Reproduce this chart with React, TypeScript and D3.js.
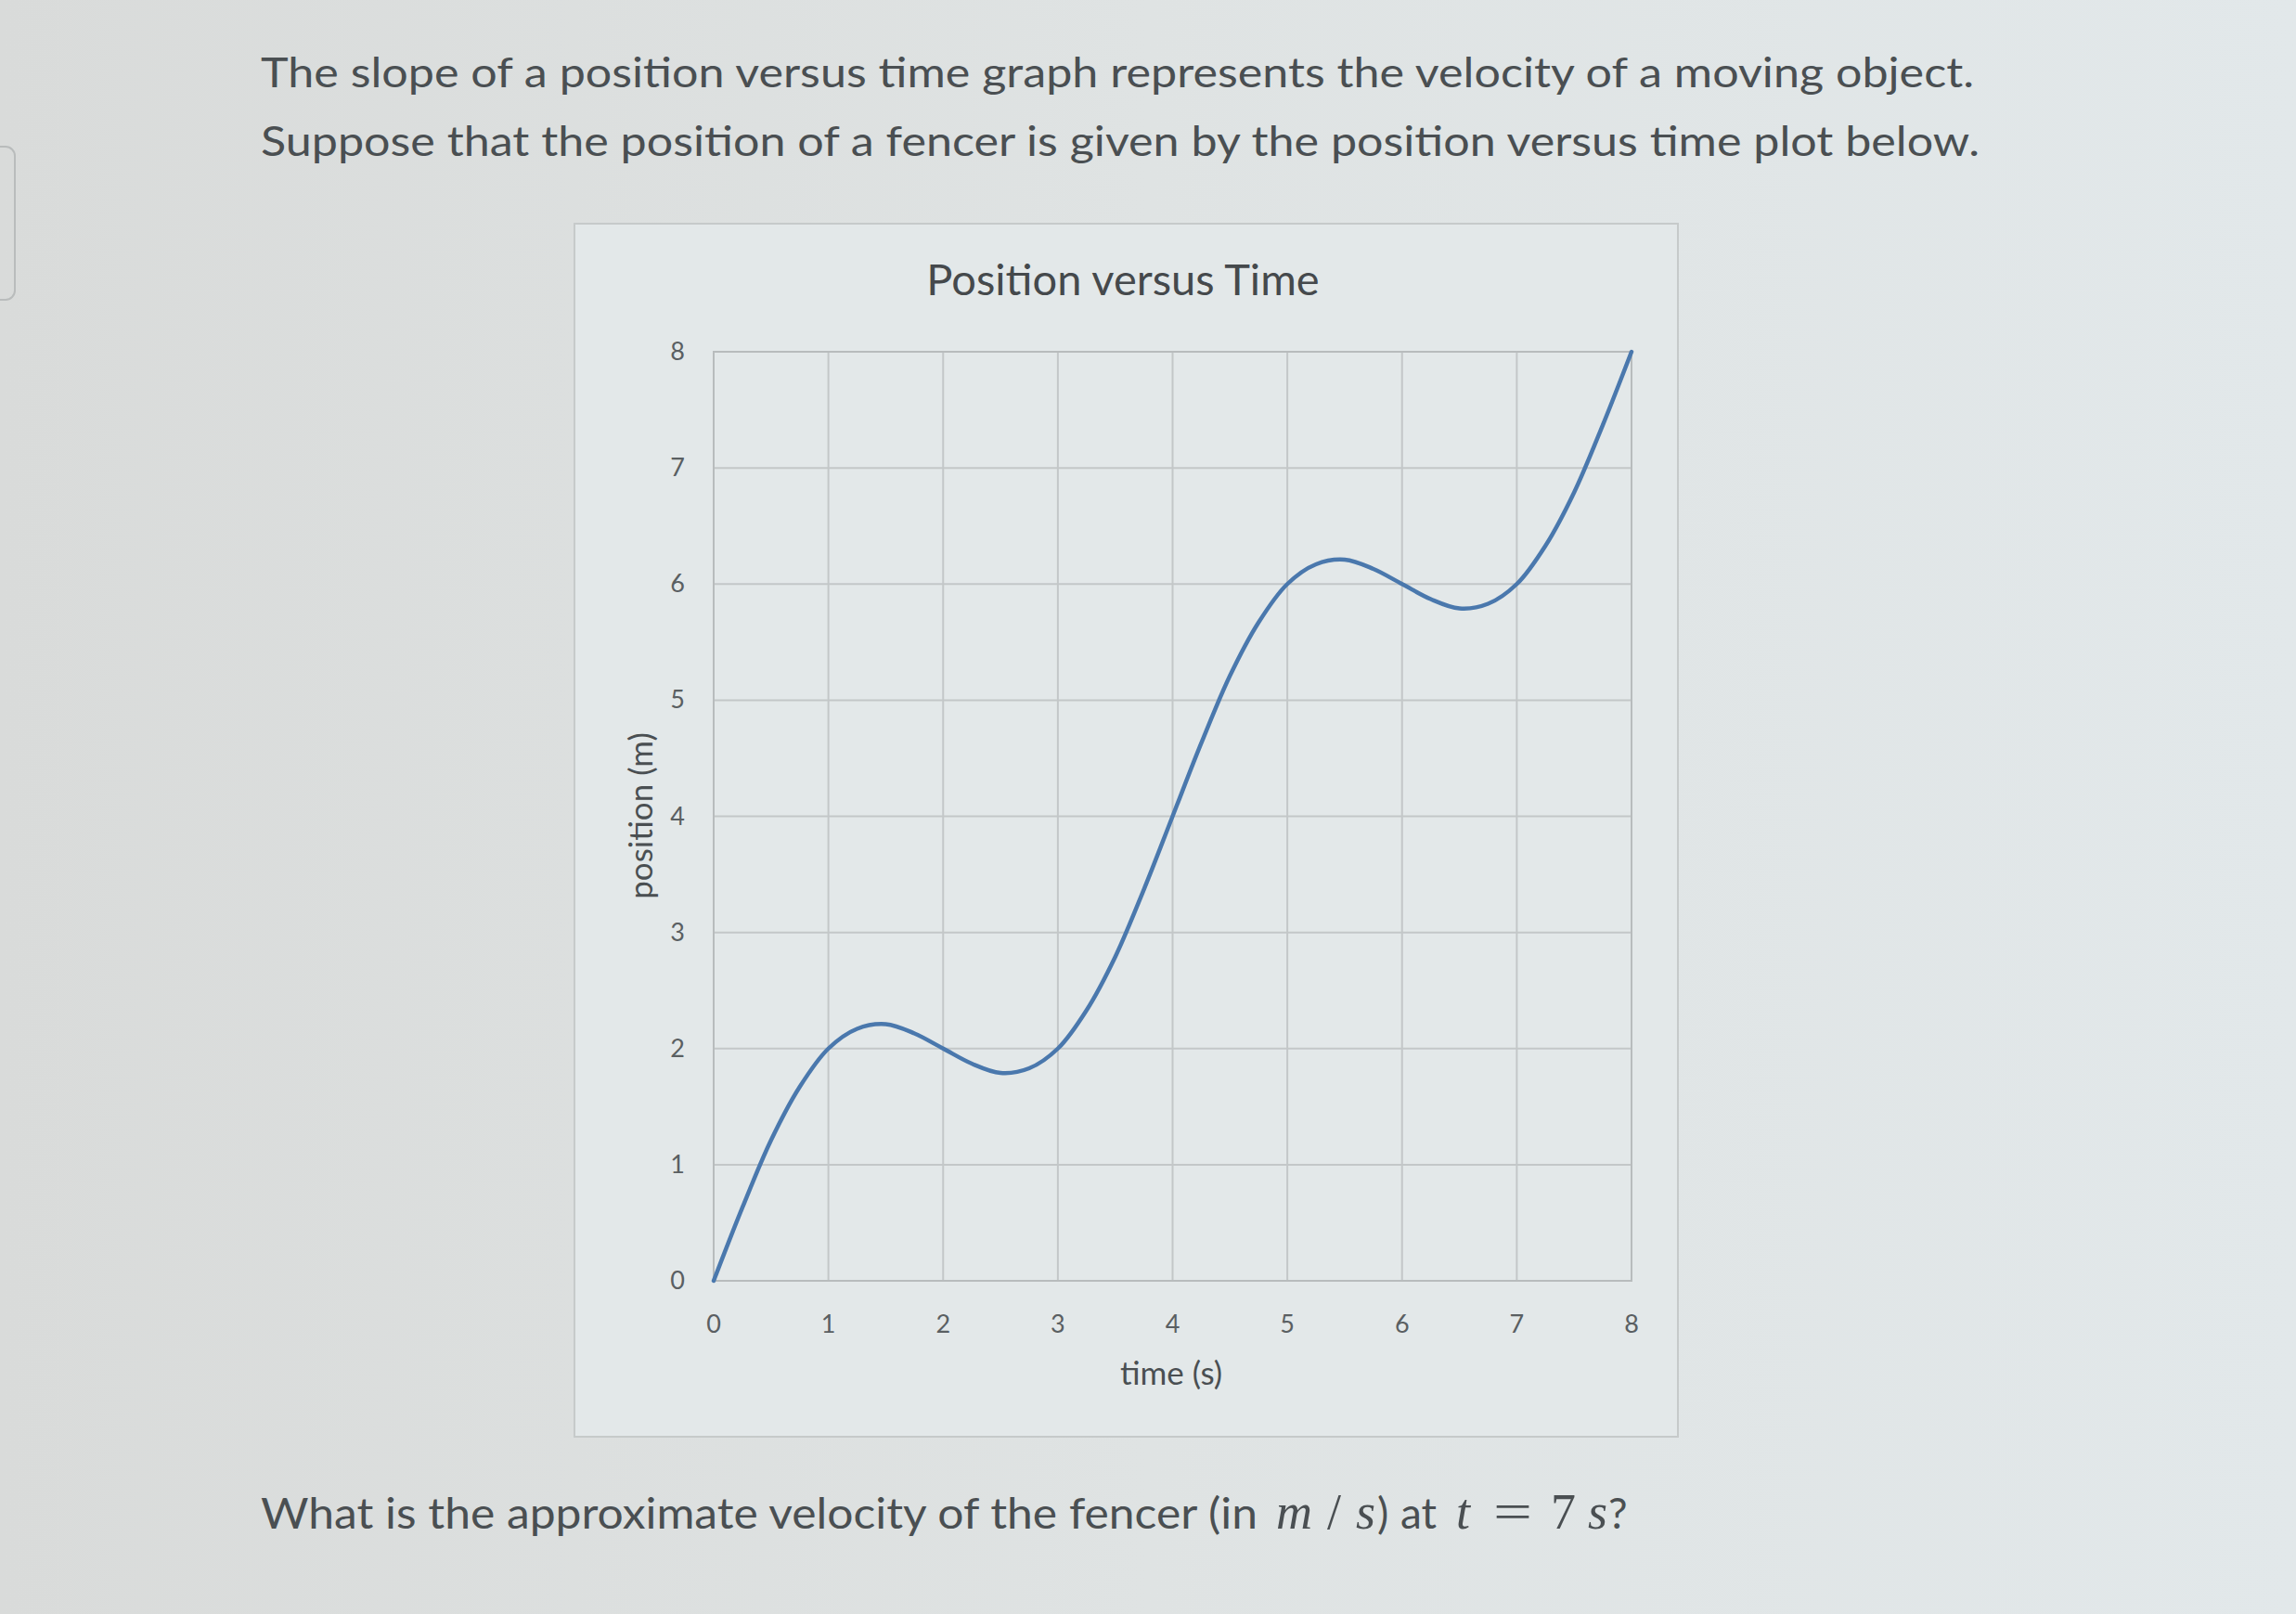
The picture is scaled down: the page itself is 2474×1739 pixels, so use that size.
import React from "react";
import * as d3 from "d3";

const times = [0, 0.25, 0.5, 0.75, 1, 1.25, 1.5, 1.75, 2, 2.25, 2.5, 2.75, 3, 3.25, 3.5, 3.75, 4, 4.25, 4.5, 4.75, 5, 5.25, 5.5, 5.75, 6, 6.25, 6.5, 6.75, 7, 7.25, 7.5, 7.75, 8];
const positions = [0, 0.63, 1.21, 1.67, 2.0, 2.17, 2.21, 2.13, 2.0, 1.87, 1.79, 1.83, 2.0, 2.33, 2.79, 3.37, 4.0, 4.63, 5.21, 5.67, 6.0, 6.17, 6.21, 6.13, 6.0, 5.87, 5.79, 5.83, 6.0, 6.33, 6.79, 7.37, 8.0];
const xTicks = [0, 1, 2, 3, 4, 5, 6, 7, 8];
const yTicks = [0, 1, 2, 3, 4, 5, 6, 7, 8];

const title = "Position versus Time";
const xLabel = "time (s)";
const yLabel = "position (m)";
const line1 = "The slope of a position versus time graph represents the velocity of a moving object.";
const line2 = "Suppose that the position of a fencer is given by the position versus time plot below.";
const question = "What is the approximate velocity of the fencer (in";
const mathTokens: { s: string; x: number; it: boolean; sans?: boolean; len?: number }[] = [
  { s: "m", x: 1375, it: true },
  { s: "/", x: 1430, it: false },
  { s: "s", x: 1461, it: true },
  { s: ")", x: 1484, it: false, sans: true },
  { s: "at", x: 1509, it: false, sans: true },
  { s: "t", x: 1569, it: true },
  { s: "=", x: 1609, it: false, len: 42 },
  { s: "7", x: 1671, it: false },
  { s: "s", x: 1711, it: true },
  { s: "?", x: 1733, it: false, sans: true },
];

export default function App() {
  const W = 2474, H = 1739;
  const x = d3.scaleLinear().domain([0, 8]).range([769, 1758]);
  const y = d3.scaleLinear().domain([0, 8]).range([1380, 379]);
  const data = times.map((t, i) => [t, positions[i]] as [number, number]);
  const path = d3.line<[number, number]>().x(d => x(d[0])).y(d => y(d[1])).curve(d3.curveCatmullRom.alpha(0.5))(data) || "";
  const font = "Lato, 'Open Sans', sans-serif";
  const serif = "'Liberation Serif', 'DejaVu Serif', serif";
  const txt = "#4a4f52";
  return (
    <svg width={W} height={H} style={{ position: "absolute", left: 0, top: 0 }} fontFamily={font}>
      <defs>
        <linearGradient id="bg" x1="0" x2="1" y1="0" y2="0">
          <stop offset="0" stopColor="#d9dbda" />
          <stop offset="0.5" stopColor="#dfe3e3" />
          <stop offset="1" stopColor="#e2e8ea" />
        </linearGradient>
      </defs>
      <rect x={0} y={0} width={W} height={H} fill="url(#bg)" />
      <rect x={-20} y={158} width={36} height={165} rx={10} fill="none" stroke="#b9bcbc" strokeWidth={2} />
      <text x={281} y={94} fontSize={45} fill={txt} textLength={1846} lengthAdjust="spacingAndGlyphs">{line1}</text>
      <text x={281} y={168} fontSize={45} fill={txt} textLength={1852} lengthAdjust="spacingAndGlyphs">{line2}</text>

      <rect x={619} y={241} width={1189} height={1307} fill="#e3e8e9" stroke="#c6caca" strokeWidth={2} />
      <text x={1210} y={318} fontSize={47} fill="#45494c" textAnchor="middle">{title}</text>

      {xTicks.map(t => (
        <line key={"gx" + t} x1={x(t)} x2={x(t)} y1={y(8)} y2={y(0)} stroke="#c3c7c8" strokeWidth={2} />
      ))}
      {yTicks.map(t => (
        <line key={"gy" + t} x1={x(0)} x2={x(8)} y1={y(t)} y2={y(t)} stroke="#c3c7c8" strokeWidth={2} />
      ))}
      <rect x={x(0)} y={y(8)} width={x(8) - x(0)} height={y(0) - y(8)} fill="none" stroke="#b8bcbd" strokeWidth={2} />

      {xTicks.map(t => (
        <text key={"tx" + t} x={x(t)} y={1436} fontSize={27} fill="#5a5f62" textAnchor="middle">{t}</text>
      ))}
      {yTicks.map(t => (
        <text key={"ty" + t} x={738} y={y(t) + 9} fontSize={27} fill="#5a5f62" textAnchor="end">{t}</text>
      ))}
      <text x={1262} y={1492} fontSize={35} fill="#4a4f52" textAnchor="middle">{xLabel}</text>
      <text transform="translate(703,879) rotate(-90)" fontSize={35} fill="#4a4f52" textAnchor="middle">{yLabel}</text>

      <path d={path} fill="none" stroke="#4a78ad" strokeWidth={4.5} strokeLinecap="round" />

      <text x={281} y={1647} fontSize={46} fill={txt} textLength={1074} lengthAdjust="spacingAndGlyphs">{question}</text>
      {mathTokens.map((m, i) => (
        <text key={"m" + i} x={m.x} y={1647} fontSize={m.sans ? 46 : 54} fill={txt}
          fontFamily={m.sans ? font : serif} fontStyle={m.it ? "italic" : "normal"}
          textLength={m.len} lengthAdjust={m.len ? "spacingAndGlyphs" : undefined}>{m.s}</text>
      ))}
    </svg>
  );
}
